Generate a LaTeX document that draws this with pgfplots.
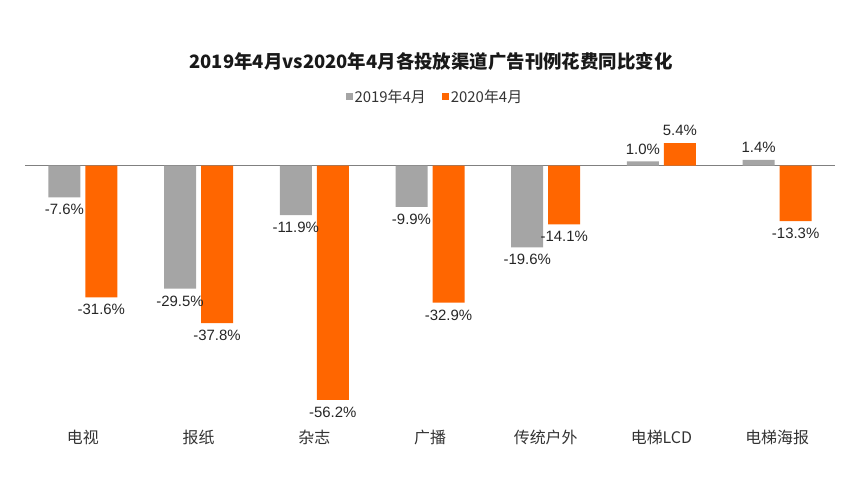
\documentclass[border=0pt]{standalone}
\usepackage{pgfplots}
\pgfplotsset{compat=1.18}
\usepackage{fontspec}
\setmainfont{Liberation Sans}
\newfontfamily\cjk{Noto Sans CJK SC}
\definecolor{g19}{RGB}{165,165,165}
\definecolor{o20}{RGB}{255,102,0}
\begin{document}
\begin{tikzpicture}
\useasboundingbox (0,0) rectangle (859bp,496bp);
\node[font=\cjk\bfseries\fontsize{18.5}{22}\selectfont, text=black!90] at (431bp,434bp) {2019年4月vs2020年4月各投放渠道广告刊例花费同比变化};
\begin{axis}[
  at={(25bp,72bp)}, anchor=south west, scale only axis,
  width=810bp, height=300bp,
  xmin=-0.5, xmax=6.5, ymin=-62, ymax=10,
  ybar=5bp, bar width=32bp,
  axis line style={draw=none},
  xtick={0,1,2,3,4,5,6},
  xticklabels={电视,报纸,杂志,广播,传统户外,电梯LCD,电梯海报},
  xticklabel style={font=\cjk\fontsize{16}{18}\selectfont, text=black!80, yshift=-3bp},
  major tick length=0pt,
  ytick=\empty,
  extra y ticks={0}, extra y tick labels={},
  extra y tick style={grid=major, major grid style={draw=gray, line width=0.8bp}},
  /pgf/number format/assume math mode=true,
  nodes near coords={\pgfmathprintnumber[fixed,precision=1,fixed zerofill]{\pgfplotspointmeta}\%},
  every node near coord/.append style={font=\fontsize{15}{17}\selectfont, text=black!85, inner sep=7bp},
  legend columns=2,
  legend style={draw=none, fill=none, at={(0.506,1.09)}, anchor=center,
    font=\cjk\fontsize{15}{17}\selectfont, text=black!80,
    /tikz/every even column/.append style={column sep=14bp}},
  legend image code/.code={\fill[#1] (0bp,-3.5bp) rectangle (7bp,3.5bp);},
]
\addplot[fill=g19, draw=none] coordinates {(0,-7.6) (1,-29.5) (2,-11.9) (3,-9.9) (4,-19.6) (5,1.0) (6,1.4)};
\addplot[fill=o20, draw=none] coordinates {(0,-31.6) (1,-37.8) (2,-56.2) (3,-32.9) (4,-14.1) (5,5.4) (6,-13.3)};
\legend{2019年4月,2020年4月}
\end{axis}
\end{tikzpicture}
\end{document}
